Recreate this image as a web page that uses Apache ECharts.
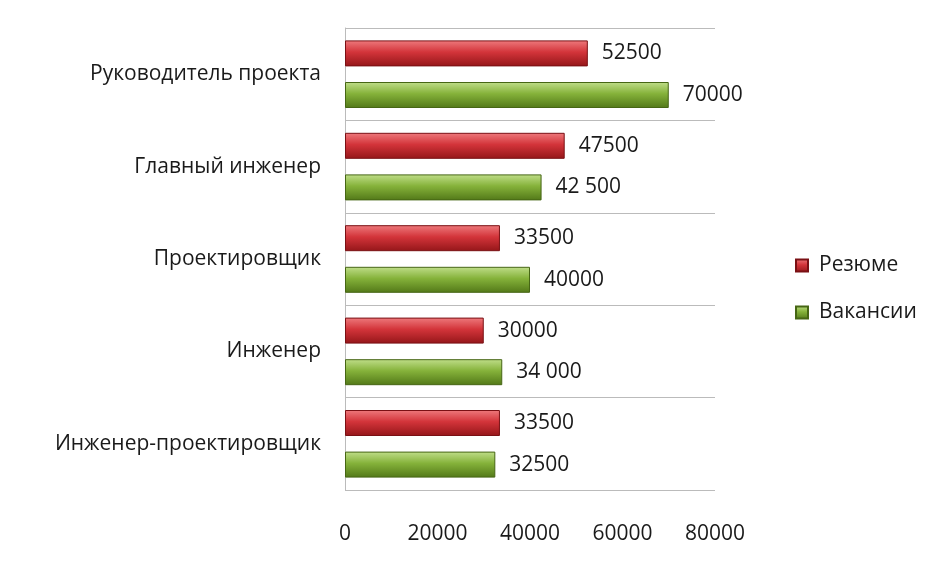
<!DOCTYPE html>
<html><head><meta charset="utf-8">
<script src="https://cdn.jsdelivr.net/npm/echarts@6/dist/echarts.min.js"></script>
<style>html,body{margin:0;padding:0;background:#fff}#c{width:944px;height:562px}</style>
</head><body><div id="c"></div>
<script>
const categories = ["Руководитель проекта","Главный инженер","Проектировщик","Инженер","Инженер-проектировщик"];
const resume = [52500,47500,33500,30000,33500];
const resumeLabels = ["52500","47500","33500","30000","33500"];
const vacancies = [70000,42500,40000,34000,32500];
const vacancyLabels = ["70000","42 500","40000","34 000","32500"];
const xTicks = [0,20000,40000,60000,80000];

function grad(top, mid, bot){
  return new echarts.graphic.LinearGradient(0,0,0,1,[{offset:0,color:top},{offset:0.45,color:mid},{offset:1,color:bot}]);
}
const chart = echarts.init(document.getElementById('c'));
const txt = {fontFamily:'Open Sans, Liberation Sans, sans-serif', color:'#1a1a1a'};
chart.setOption({
  animation:false,
  grid:{left:345,right:229,top:28,bottom:72},
  legend:{orient:'vertical',left:790,top:250,itemGap:26,itemWidth:12,itemHeight:12,icon:'rect',
    textStyle:Object.assign({fontSize:21,padding:[0,0,0,6]},txt),
    data:['Резюме','Вакансии']},
  xAxis:{type:'value',min:0,max:80000,interval:20000,
    axisLine:{show:false},axisTick:{show:false},splitLine:{show:false},
    axisLabel:Object.assign({fontSize:21,margin:34,formatter:v=>String(xTicks[xTicks.indexOf(v)])},txt)},
  yAxis:{type:'category',inverse:true,data:categories,
    axisLine:{show:true,lineStyle:{color:'#bbb'}},axisTick:{show:false},
    splitLine:{show:true,lineStyle:{color:'#bbb'}},
    axisLabel:Object.assign({fontSize:21,margin:24},txt)},
  series:[
    {name:'Резюме',type:'bar',data:resume,barWidth:26,barGap:'60%',
     itemStyle:{color:grad('#ee7a7d','#d3343a','#941619'),borderColor:'#7a1014',borderWidth:1},
     label:{show:true,position:'right',distance:14,fontSize:21,color:'#1a1a1a',fontFamily:txt.fontFamily,
       formatter:p=>resumeLabels[p.dataIndex]}},
    {name:'Вакансии',type:'bar',data:vacancies,barWidth:26,
     itemStyle:{color:grad('#c0de8a','#85b23a','#527818'),borderColor:'#466614',borderWidth:1},
     label:{show:true,position:'right',distance:14,fontSize:21,color:'#1a1a1a',fontFamily:txt.fontFamily,
       formatter:p=>vacancyLabels[p.dataIndex]}}
  ]
});
</script></body></html>
